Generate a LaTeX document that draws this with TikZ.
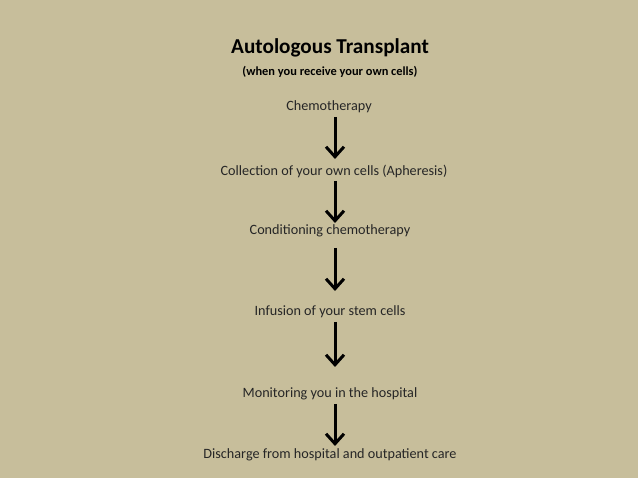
\documentclass[tikz,border=0pt]{standalone}
\usepackage{fontspec}
\setmainfont{Carlito}
\definecolor{bg}{RGB}{199,190,155}
\tikzset{lbl/.style={font=\fontsize{14.2}{16}\selectfont, text=black!85, inner sep=0pt},
 arr/.style={line width=3pt, -{Straight Barb[length=10pt,width=18pt,line width=3pt]}}}
\usetikzlibrary{arrows.meta}
\begin{document}
\begin{tikzpicture}[x=1pt,y=-1pt]
\fill[bg] (0,0) rectangle (638,478);
\useasboundingbox (0,0) rectangle (638,478);
\node[inner sep=0pt,font=\fontsize{21.2}{23}\selectfont\bfseries] (t) at (330,48) {Autologous Transplant};
\node[inner sep=0pt,font=\fontsize{12.4}{14}\selectfont\bfseries] (s) at (330,72) {(when you receive your own cells)};
\node[lbl] (a) at (329,107) {Chemotherapy};
\node[lbl] (b) at (334,171) {Collection of your own cells (Apheresis)};
\node[lbl] (c) at (330,231) {Conditioning chemotherapy};
\node[lbl] (d) at (330,312) {Infusion of your stem cells};
\node[lbl] (e) at (330,394) {Monitoring you in the hospital};
\node[lbl] (f) at (330,455) {Discharge from hospital and outpatient care};
\coordinate (a1) at (335,117); \coordinate (a2) at (335,159);
\coordinate (b1) at (335,181); \coordinate (b2) at (335,223);
\coordinate (c1) at (335,248); \coordinate (c2) at (335,291);
\coordinate (d1) at (335,322); \coordinate (d2) at (335,367);
\coordinate (e1) at (335,404); \coordinate (e2) at (335,446);
\draw[arr] (a1) -- (a2);
\draw[arr] (b1) -- (b2);
\draw[arr] (c1) -- (c2);
\draw[arr] (d1) -- (d2);
\draw[arr] (e1) -- (e2);
\end{tikzpicture}
\end{document}
